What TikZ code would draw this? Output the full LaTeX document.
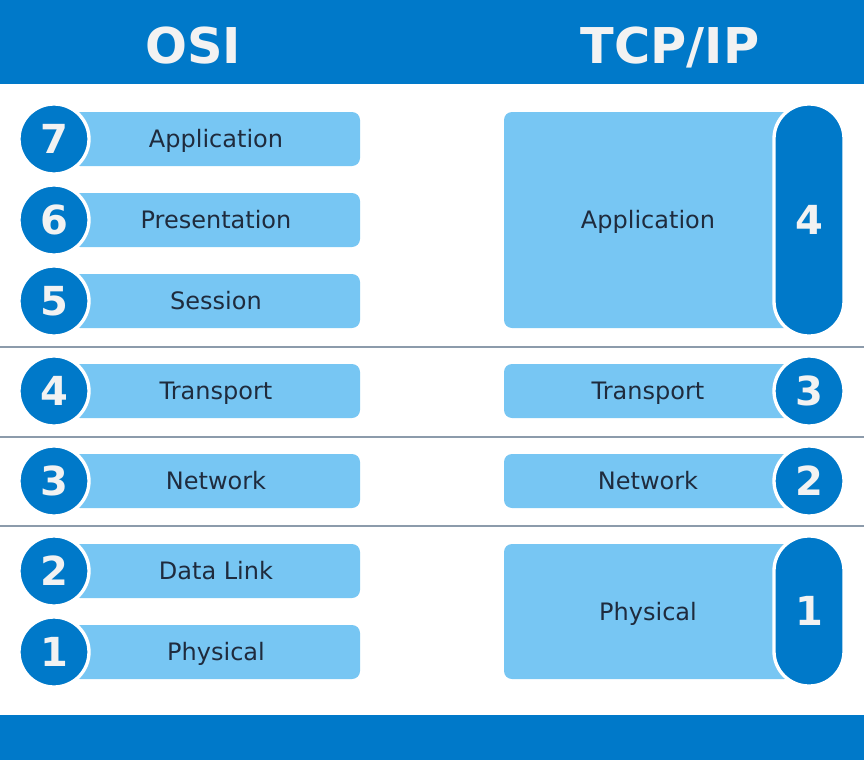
\documentclass[tikz,border=0pt]{standalone}
\usepackage{fontspec}
\setmainfont{DejaVu Sans}
\usepackage{tikz}
\definecolor{Band}{HTML}{0079C9}
\definecolor{Sky}{HTML}{77C6F3}
\definecolor{Ink}{HTML}{1F2B3D}
\definecolor{Snow}{HTML}{F2F2F2}
\definecolor{Rule}{HTML}{8C9BAB}
\tikzset{
  band/.style={fill=Band},
  divider/.style={draw=Rule, line width=1.5pt},
  title/.style={color=Snow, font=\fontsize{37}{40}\selectfont\bfseries, text height=27pt, text depth=0pt, inner sep=0pt},
  layer/.style={fill=Sky, rounded corners=6pt, minimum width=216pt, minimum height=40.5pt, inner sep=0pt, text=Ink, font=\fontsize{18}{20}\selectfont, text height=13.1pt, text depth=0pt},
  badge/.style={circle, fill=Band, draw=white, line width=2.5pt, minimum size=52.5pt, inner sep=0pt, text=Snow, font=\fontsize{30}{32}\selectfont\bfseries, text height=21.9pt, text depth=0pt},
  pill/.style={badge, rectangle, rounded corners=26pt, minimum width=52.5pt},
}

\begin{document}
\begin{tikzpicture}[x=0.75pt, y=-0.75pt]
  \useasboundingbox (0,0) rectangle (864,760);

  % Header and footer bands
  \fill[band] (0,0) rectangle (864,84);
  \fill[band] (0,715) rectangle (864,760);
  \node[title] (osi) at (193,45) {OSI};
  \node[title] (tcpip) at (670,45) {TCP/IP};

  % Row dividers
  \draw[divider] (0,347) -- (864,347);
  \draw[divider] (0,437) -- (864,437);
  \draw[divider] (0,526) -- (864,526);

  % OSI layers
  \node[layer] (osi7) at (216,139) {Application};
  \node[layer] (osi6) at (216,220) {Presentation};
  \node[layer] (osi5) at (216,301) {Session};
  \node[layer] (osi4) at (216,391) {Transport};
  \node[layer] (osi3) at (216,481) {Network};
  \node[layer] (osi2) at (216,571) {Data Link};
  \node[layer] (osi1) at (216,652) {Physical};

  \node[badge] (num7) at (54,139) {7};
  \node[badge] (num6) at (54,220) {6};
  \node[badge] (num5) at (54,301) {5};
  \node[badge] (num4) at (54,391) {4};
  \node[badge] (num3) at (54,481) {3};
  \node[badge] (num2) at (54,571) {2};
  \node[badge] (num1) at (54,652) {1};

  % TCP/IP layers
  \node[layer, minimum height=162pt] (tcp4) at (648,220) {Application};
  \node[layer] (tcp3) at (648,391) {Transport};
  \node[layer] (tcp2) at (648,481) {Network};
  \node[layer, minimum height=101.25pt] (tcp1) at (648,611.5) {Physical};

  \node[pill, minimum height=174pt] (tnum4) at (809,220) {4};
  \node[badge] (tnum3) at (809,391) {3};
  \node[badge] (tnum2) at (809,481) {2};
  \node[pill, minimum height=112.5pt] (tnum1) at (809,611) {1};
\end{tikzpicture}
\end{document}
